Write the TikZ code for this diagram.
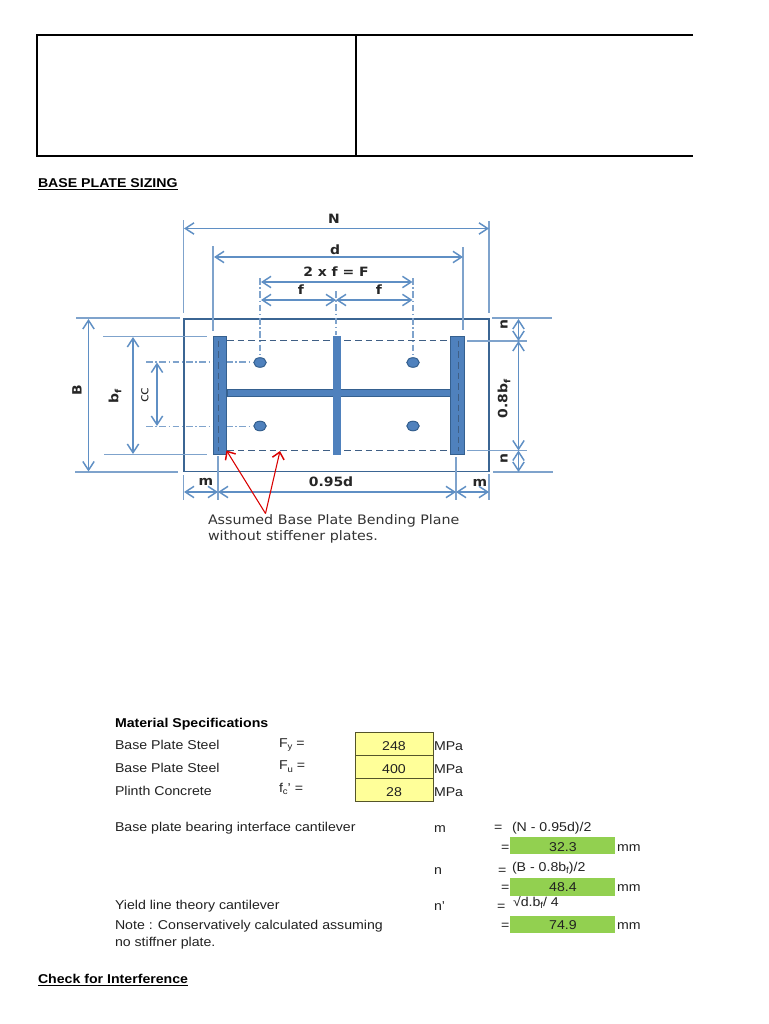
\documentclass[tikz,border=0pt]{standalone}
\usepackage{fontspec}
\setmainfont[FakeStretch=1.105]{Liberation Sans}
\newfontfamily\dgfont[FakeStretch=1.09]{DejaVu Sans}
\usetikzlibrary{arrows.meta}
\definecolor{dimc}{HTML}{5F8FC4}
\definecolor{extc}{HTML}{7FA3CC}
\definecolor{platec}{HTML}{3B6593}
\definecolor{steelc}{HTML}{4F81BD}
\definecolor{steeld}{HTML}{35608F}
\definecolor{dashc}{HTML}{3F5F85}
\definecolor{cellg}{HTML}{92D050}
\definecolor{celly}{HTML}{FFFF99}
\definecolor{celld}{HTML}{55552A}
\definecolor{txt}{HTML}{222222}
\newcommand{\subdn}[1]{\raisebox{-2.2pt}{\fontsize{6.5}{7}\selectfont #1}}
\newcommand{\dgsub}[1]{\raisebox{-2.4pt}{\fontsize{6.5}{7}\selectfont #1}}
\tikzset{
  x=0.75pt,y=-0.75pt,
  sheet/.style={anchor=base west,inner sep=0pt,outer sep=0pt,font=\fontsize{9.6}{11}\selectfont,text=txt},
  sheetc/.style={sheet,anchor=base},
  hdr/.style={sheet,font=\fontsize{9.6}{11}\selectfont\bfseries,text=black},
  yellowcell/.style={fill=celly,draw=celld,line width=0.75pt},
  frameline/.style={draw=black,line width=1.6pt},
  dimline/.style={draw=dimc,line width=0.85pt,{Straight Barb[length=6.5pt,width=8.5pt,line width=1.1pt]}-{Straight Barb[length=6.5pt,width=8.5pt,line width=1.1pt]}},
  extline/.style={draw=extc,line width=0.9pt},
  chainline/.style={draw=extc,line width=0.8pt,dash pattern=on 5pt off 2pt on 1pt off 2pt},
  bendline/.style={draw=dashc,line width=0.6pt,dash pattern=on 5pt off 3pt},
  steelpart/.style={fill=steelc,draw=steeld,line width=0.75pt},
  lbl/.style={inner sep=0pt,outer sep=0pt,font=\dgfont\fontsize{9.6}{11}\selectfont,text=black!85},
  notetext/.style={anchor=base west,inner sep=0pt,outer sep=0pt,font=\dgfont\fontsize{9.8}{11}\selectfont,text=black!80},
  redarrow/.style={draw=red!85!black,line width=0.8pt,-{Straight Barb[length=5pt,width=9pt,line width=1.1pt]}},
}
\begin{document}
\begin{tikzpicture}
\useasboundingbox (0,0) rectangle (768,1024);
\fill[white] (0,0) rectangle (768,1024);
% title frame
\coordinate (fa) at (37,35); \coordinate (fb) at (693,35);
\coordinate (fc) at (37,156); \coordinate (fd) at (693,156);
\coordinate (fe) at (356,35); \coordinate (ff) at (356,156);
\draw[frameline] (fb) -- (fa) -- (fc) -- (fd);
\draw[frameline] (fe) -- (ff);
\node[hdr] (h1) at (38,187.5) {\underline{BASE PLATE SIZING}};
% plate
\draw[draw=platec,line width=1.4pt] (184,319) rectangle (489,471.5);
% bending plane
\draw[bendline] (227,340.5) -- (450,340.5);
\draw[bendline] (227,450.5) -- (450,450.5);
% chain lines
\draw[chainline] (260,278) -- (260,356);
\draw[chainline] (413,278) -- (413,356);
\draw[chainline] (336,291) -- (336,335);
\draw[chainline] (146,362) -- (250,362);
\draw[chainline] (146,426.5) -- (250,426.5);
% steel section
\draw[steelpart] (227,389) rectangle (450,396);
\draw[steelpart,draw=steelc] (333.5,336) rectangle (340,454);
\draw[steelpart] (213,336.5) rectangle (226.5,454);
\draw[steelpart] (450.5,336.5) rectangle (464,454);
\draw[bendline] (218.5,340.5) -- (218.5,450.5);
\draw[bendline] (458,340.5) -- (458,450.5);
% bolts
\foreach \px/\py in {260/362.5,260/426,413/362.5,413/426}
  \draw[steelpart] (\px,\py) ellipse [x radius=6.2,y radius=4.8];
% extension lines
\foreach \ax/\ay/\bx/\by in {183.5/220/183.5/313, 489/221/489/313, 213/246/213/331, 463/247/463/330,
   76/318/180/318, 75/472/178/472, 103/336.5/207/336.5, 104/454.5/207/454.5,
   492/318/552/318, 467/341/527/341, 467/450.5/527/450.5, 493/472/553/472,
   183.5/475/183.5/500, 218/456/218/500, 456/457/456/500, 489/474/489/500}
  \draw[extline] (\ax,\ay) -- (\bx,\by);
% dimension lines
\foreach \ax/\ay/\bx/\by in {184/228.5/489/228.5, 214/257/463/257, 261/282/412.5/282,
   261/300/336/300, 336/300/412.5/300,
   88.5/319/88.5/471.5, 133/337/133/454, 157/362.5/157/426,
   518.5/319/518.5/341, 518.5/341/518.5/450.5, 518.5/450.5/518.5/472,
   184/492/218/492, 218/492/456/492, 456/492/489/492}
  \draw[dimline] (\ax,\ay) -- (\bx,\by);
% dim labels
\node[lbl] (lN) at (334,218.5) {\textbf{N}};
\node[lbl] (ld) at (335,249.5) {\textbf{d}};
\node[lbl] (l2f) at (336,272) {\textbf{2 x f = F}};
\node[lbl] (lf1) at (301,290) {\textbf{f}};
\node[lbl] (lf2) at (379,290) {\textbf{f}};
\node[lbl,rotate=90] (lB) at (77,390) {\textbf{B}};
\node[lbl,rotate=90] (lbf) at (115,396) {\textbf{b\dgsub{f}}};
\node[lbl,rotate=90] (lcc) at (145,395) {cc};
\node[lbl,rotate=90] (ln1) at (504,325) {\textbf{n}};
\node[lbl,rotate=90] (ln2) at (504,459) {\textbf{n}};
\node[lbl,rotate=90] (l8b) at (504,399) {\textbf{0.8b\dgsub{f}}};
\node[lbl] (lm1) at (206,481.5) {\textbf{m}};
\node[lbl] (l95) at (331,482) {\textbf{0.95d}};
\node[lbl] (lm2) at (480,483) {\textbf{m}};
% note
\node[notetext] (n1) at (208,524.5) {Assumed Base Plate Bending Plane};
\node[notetext] (n2) at (208,540) {without stiffener plates.};
\coordinate (ap) at (265.5,513.5);
\coordinate (t1) at (226.5,450.5);
\coordinate (t2) at (280,451);
\draw[redarrow] (ap) -- (t1);
\draw[redarrow] (ap) -- (t2);
% material specs
\node[hdr] (m0) at (115,727) {Material Specifications};
\node[sheet] (m1) at (115,749.5) {Base Plate Steel};
\node[sheet] (m2) at (115,772.5) {Base Plate Steel};
\node[sheet] (m3) at (115,795) {Plinth Concrete};
\node[sheet] (s1) at (279,747) {F\subdn{y} =};
\node[sheet] (s2) at (279,769.5) {F\subdn{u} =};
\node[sheet] (s3) at (279,792) {f\subdn{c}' =};
\draw[yellowcell] (355.5,732) rectangle (433,755);
\draw[yellowcell] (355.5,755) rectangle (433,778);
\draw[yellowcell] (355.5,778) rectangle (433,801);
\node[sheetc] (v1) at (394,750) {248};
\node[sheetc] (v2) at (394,773) {400};
\node[sheetc] (v3) at (394,796) {28};
\node[sheet] (u1) at (434,750) {MPa};
\node[sheet] (u2) at (434,773) {MPa};
\node[sheet] (u3) at (434,796) {MPa};
% cantilevers
\node[sheet] (c1) at (115,831.5) {Base plate bearing interface cantilever};
\node[sheet] (c2) at (115,909.5) {Yield line theory cantilever};
\node[sheet] (c3) at (115,929) {Note : Conservatively calculated assuming};
\node[sheet] (c4) at (115,946.5) {no stiffner plate.};
\node[sheet] (k1) at (434,832) {m};
\node[sheet] (k2) at (434,874) {n};
\node[sheet] (k3) at (434,910) {n'};
\node[sheet] (e1) at (494,831.5) {=};
\node[sheet] (e2) at (498,874) {=};
\node[sheet] (e3) at (497,910) {=};
\node[sheet] (f1) at (512,831.5) {(N - 0.95d)/2};
\node[sheet] (f2) at (512,871) {(B - 0.8b\subdn{f})/2};
\node[sheet] (f3) at (513,906) {√d.b\subdn{f}/ 4};
\fill[cellg] (510,837) rectangle (615,854);
\fill[cellg] (510,878) rectangle (615,895.5);
\fill[cellg] (510,915.5) rectangle (615,933);
\node[sheet] (e4) at (501,851) {=};
\node[sheet] (e5) at (501,891) {=};
\node[sheet] (e6) at (501,929) {=};
\node[sheetc] (g1) at (563,851) {32.3};
\node[sheetc] (g2) at (563,891) {48.4};
\node[sheetc] (g3) at (563,929) {74.9};
\node[sheet] (w1) at (617,851) {mm};
\node[sheet] (w2) at (617,891) {mm};
\node[sheet] (w3) at (617,929) {mm};
\node[hdr] (h2) at (38,983) {\underline{Check for Interference}};
\end{tikzpicture}
\end{document}
